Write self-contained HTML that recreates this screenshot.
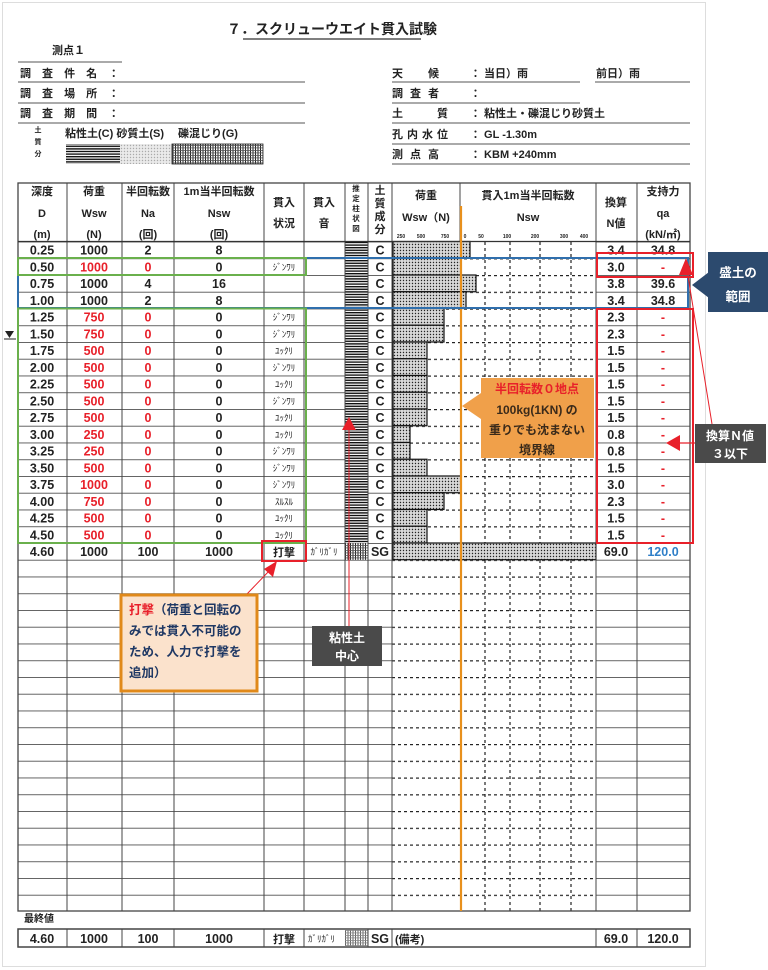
<!DOCTYPE html>
<html><head><meta charset="utf-8"><style>
html,body{margin:0;padding:0;background:#fff}
svg{display:block}
text{font-family:"Liberation Sans","Noto Sans CJK JP",sans-serif;font-weight:bold;fill:#222}
.c{text-anchor:middle}
.r{fill:#e8202a}
.k{font-size:9px;font-weight:normal}
</style></head><body>
<svg width="768" height="970" viewBox="0 0 768 970" xmlns="http://www.w3.org/2000/svg">
<defs>
<pattern id="dots" width="3" height="3" patternUnits="userSpaceOnUse"><rect width="3" height="3" fill="#d8d8d8"/><circle cx="1.5" cy="1.5" r="0.7" fill="#222"/></pattern>
<pattern id="str" width="4" height="2.6" patternUnits="userSpaceOnUse"><rect width="4" height="2.6" fill="#fff"/><rect width="4" height="1.4" fill="#111"/></pattern>
<pattern id="grd" width="2.5" height="2.5" patternUnits="userSpaceOnUse"><rect width="2.5" height="2.5" fill="#fff"/><rect width="1" height="2.5" fill="#222"/><rect width="2.5" height="0.8" fill="#555"/></pattern>
<pattern id="rowl" x="0" y="241.5" width="10" height="16.75" patternUnits="userSpaceOnUse"><rect x="0" y="0" width="10" height="0.9" fill="#555"/></pattern>
<pattern id="rowd" x="392" y="241.5" width="6" height="16.75" patternUnits="userSpaceOnUse"><rect x="0" y="0" width="3" height="1.2" fill="#222"/></pattern>
</defs>
<rect x="2.5" y="2.5" width="703" height="964" fill="#fff" stroke="#ddd"/>
<!-- title -->
<text x="332" y="34" class="c" font-size="14">７．スクリューウエイト貫入試験</text>
<line x1="243" y1="39" x2="421" y2="39" stroke="#333" stroke-width="1.2"/>
<text x="52" y="54" font-size="11">測点１</text>
<line x1="18" y1="62" x2="122" y2="62" stroke="#555"/>
<text x="20" y="77" font-size="11" letter-spacing="4">調 査 件 名 ：</text>
<text x="20" y="97" font-size="11" letter-spacing="4">調 査 場 所 ：</text>
<text x="20" y="117" font-size="11" letter-spacing="4">調 査 期 間 ：</text>
<line x1="18" y1="82" x2="305" y2="82" stroke="#555"/>
<line x1="18" y1="103" x2="305" y2="103" stroke="#555"/>
<line x1="18" y1="123" x2="305" y2="123" stroke="#555"/>
<text x="38" y="132" font-size="7" class="c">土</text><text x="38" y="144" font-size="7" class="c">質</text><text x="38" y="156" font-size="7" class="c">分</text>
<text x="65" y="137" font-size="11">粘性土(C) 砂質土(S)　 礫混じり(G)</text>
<rect x="66" y="144" width="54" height="20" fill="url(#str)"/>
<rect x="120" y="144" width="52" height="20" fill="#f4f4f4"/>
<rect x="120" y="144" width="52" height="20" fill="url(#dots)" opacity="0.35"/>
<rect x="172" y="144" width="91" height="20" fill="url(#grd)" stroke="#222" stroke-width="0.8"/>
<!-- right info -->
<g font-size="11">
<text x="392" y="77">天</text><text x="428" y="77">候</text><text x="470" y="77">： 当日）雨</text><text x="596" y="77">前日）雨</text>
<text x="392" y="97" letter-spacing="7">調査者</text><text x="470" y="97">：</text>
<text x="392" y="117">土</text><text x="437" y="117">質</text><text x="470" y="117">：  粘性土・礫混じり砂質土</text>
<text x="392" y="138" letter-spacing="4">孔内水位</text><text x="470" y="138">： GL -1.30m</text>
<text x="392" y="158" letter-spacing="7">測点高</text><text x="470" y="158">： KBM +240mm</text>
</g>
<g stroke="#555"><line x1="392" y1="82" x2="580" y2="82"/><line x1="595" y1="82" x2="690" y2="82"/><line x1="392" y1="103" x2="580" y2="103"/><line x1="392" y1="123" x2="690" y2="123"/><line x1="392" y1="144" x2="690" y2="144"/><line x1="392" y1="164" x2="690" y2="164"/></g>

<!-- table grid -->
<rect x="18" y="241.5" width="374" height="670" fill="url(#rowl)"/>
<rect x="596" y="241.5" width="94" height="670" fill="url(#rowl)"/>
<rect x="392" y="258" width="204" height="653" fill="url(#rowd)"/>
<g stroke="#222" stroke-width="1.2" stroke-dasharray="3,3">
<line x1="485" y1="242" x2="485" y2="911"/><line x1="510" y1="242" x2="510" y2="911"/><line x1="540" y1="242" x2="540" y2="911"/><line x1="571" y1="242" x2="571" y2="911"/>
</g>
<!-- bars -->
<g fill="url(#dots)" stroke="#111" stroke-width="1.2">
<rect x="393" y="241.5" width="77" height="16.75"/>
<rect x="393" y="258.25" width="68" height="16.75"/>
<rect x="393" y="275" width="83" height="16.75"/>
<rect x="393" y="291.75" width="73" height="16.75"/>
<rect x="393" y="308.5" width="51" height="16.75"/>
<rect x="393" y="325.25" width="51" height="16.75"/>
<rect x="393" y="342" width="34" height="16.75"/>
<rect x="393" y="358.75" width="34" height="16.75"/>
<rect x="393" y="375.5" width="34" height="16.75"/>
<rect x="393" y="392.25" width="34" height="16.75"/>
<rect x="393" y="409" width="34" height="16.75"/>
<rect x="393" y="425.75" width="17" height="16.75"/>
<rect x="393" y="442.5" width="17" height="16.75"/>
<rect x="393" y="459.25" width="34" height="16.75"/>
<rect x="393" y="476" width="68" height="16.75"/>
<rect x="393" y="492.75" width="51" height="16.75"/>
<rect x="393" y="509.5" width="34" height="16.75"/>
<rect x="393" y="526.25" width="34" height="16.75"/>
<rect x="393" y="543" width="203" height="16.75"/>
</g>
<!-- pillar -->
<rect x="345" y="241.5" width="23" height="301.5" fill="url(#str)"/>
<rect x="345" y="543" width="23" height="16.75" fill="url(#grd)"/>
<!-- verticals -->
<g stroke="#444" stroke-width="1">
<line x1="67" y1="183" x2="67" y2="911"/><line x1="122" y1="183" x2="122" y2="911"/><line x1="174" y1="183" x2="174" y2="911"/><line x1="264" y1="183" x2="264" y2="911"/><line x1="304" y1="183" x2="304" y2="911"/><line x1="345" y1="183" x2="345" y2="911"/><line x1="368" y1="183" x2="368" y2="911"/><line x1="392" y1="183" x2="392" y2="911"/><line x1="460" y1="183" x2="460" y2="241"/><line x1="596" y1="183" x2="596" y2="911"/><line x1="637" y1="183" x2="637" y2="911"/>
</g>
<rect x="18" y="183" width="672" height="728" fill="none" stroke="#444" stroke-width="1.3"/>
<line x1="18" y1="241.5" x2="690" y2="241.5" stroke="#333" stroke-width="1.2"/>
<line x1="461" y1="206" x2="461" y2="911" stroke="#e8901c" stroke-width="2.2"/>
<!-- header text -->
<g font-size="11">
<text x="42" y="195" class="c">深度</text><text x="42" y="217" class="c">D</text><text x="42" y="238" class="c">(m)</text>
<text x="94" y="195" class="c">荷重</text><text x="94" y="217" class="c">Wsw</text><text x="94" y="238" class="c">(N)</text>
<text x="148" y="195" class="c">半回転数</text><text x="148" y="217" class="c">Na</text><text x="148" y="238" class="c">(回)</text>
<text x="219" y="195" class="c">1m当半回転数</text><text x="219" y="217" class="c">Nsw</text><text x="219" y="238" class="c">(回)</text>
<text x="284" y="206" class="c">貫入</text><text x="284" y="227" class="c">状況</text>
<text x="324" y="206" class="c">貫入</text><text x="324" y="227" class="c">音</text>
<text x="380" y="194" class="c">土</text><text x="380" y="207" class="c">質</text><text x="380" y="220" class="c">成</text><text x="380" y="233" class="c">分</text>
<text x="426" y="199" class="c">荷重</text><text x="426" y="221" class="c">Wsw（N)</text>
<text x="528" y="199" class="c">貫入1m当半回転数</text><text x="528" y="221" class="c">Nsw</text>
<text x="616" y="206" class="c">換算</text><text x="616" y="227" class="c">N値</text>
<text x="663" y="195" class="c">支持力</text><text x="663" y="217" class="c">qa</text><text x="663" y="238" class="c">(kN/㎡)</text>
</g>
<g font-size="7.5"><text x="356" y="191" class="c">推</text><text x="356" y="201" class="c">定</text><text x="356" y="211" class="c">柱</text><text x="356" y="221" class="c">状</text><text x="356" y="231" class="c">図</text></g>
<g font-size="5" font-weight="normal"><text x="401" y="238" class="c">250</text><text x="421" y="238" class="c">500</text><text x="445" y="238" class="c">750</text><text x="465" y="238" class="c">0</text><text x="481" y="238" class="c">50</text><text x="507" y="238" class="c">100</text><text x="535" y="238" class="c">200</text><text x="564" y="238" class="c">300</text><text x="584" y="238" class="c">400</text></g>

<!-- data rows -->
<g font-size="12.5">
<g transform="translate(0,241.5)"><text x="42" y="13" class="c">0.25</text><text x="94" y="13" class="c">1000</text><text x="148" y="13" class="c">2</text><text x="219" y="13" class="c">8</text><text x="380" y="13" class="c">C</text><text x="616" y="13" class="c">3.4</text><text x="663" y="13" class="c">34.8</text></g>
<g transform="translate(0,258.25)"><text x="42" y="13" class="c">0.50</text><text x="94" y="13" class="c r">1000</text><text x="148" y="13" class="c r">0</text><text x="219" y="13" class="c">0</text><text x="284" y="12" class="c k">ｼﾞﾝﾜﾘ</text><text x="380" y="13" class="c">C</text><text x="616" y="13" class="c">3.0</text><text x="663" y="13" class="c r">-</text></g>
<g transform="translate(0,275)"><text x="42" y="13" class="c">0.75</text><text x="94" y="13" class="c">1000</text><text x="148" y="13" class="c">4</text><text x="219" y="13" class="c">16</text><text x="380" y="13" class="c">C</text><text x="616" y="13" class="c">3.8</text><text x="663" y="13" class="c">39.6</text></g>
<g transform="translate(0,291.75)"><text x="42" y="13" class="c">1.00</text><text x="94" y="13" class="c">1000</text><text x="148" y="13" class="c">2</text><text x="219" y="13" class="c">8</text><text x="380" y="13" class="c">C</text><text x="616" y="13" class="c">3.4</text><text x="663" y="13" class="c">34.8</text></g>
<g transform="translate(0,308.5)"><text x="42" y="13" class="c">1.25</text><text x="94" y="13" class="c r">750</text><text x="148" y="13" class="c r">0</text><text x="219" y="13" class="c">0</text><text x="284" y="12" class="c k">ｼﾞﾝﾜﾘ</text><text x="380" y="13" class="c">C</text><text x="616" y="13" class="c">2.3</text><text x="663" y="13" class="c r">-</text></g>
<g transform="translate(0,325.25)"><text x="42" y="13" class="c">1.50</text><text x="94" y="13" class="c r">750</text><text x="148" y="13" class="c r">0</text><text x="219" y="13" class="c">0</text><text x="284" y="12" class="c k">ｼﾞﾝﾜﾘ</text><text x="380" y="13" class="c">C</text><text x="616" y="13" class="c">2.3</text><text x="663" y="13" class="c r">-</text></g>
<g transform="translate(0,342)"><text x="42" y="13" class="c">1.75</text><text x="94" y="13" class="c r">500</text><text x="148" y="13" class="c r">0</text><text x="219" y="13" class="c">0</text><text x="284" y="12" class="c k">ﾕｯｸﾘ</text><text x="380" y="13" class="c">C</text><text x="616" y="13" class="c">1.5</text><text x="663" y="13" class="c r">-</text></g>
<g transform="translate(0,358.75)"><text x="42" y="13" class="c">2.00</text><text x="94" y="13" class="c r">500</text><text x="148" y="13" class="c r">0</text><text x="219" y="13" class="c">0</text><text x="284" y="12" class="c k">ｼﾞﾝﾜﾘ</text><text x="380" y="13" class="c">C</text><text x="616" y="13" class="c">1.5</text><text x="663" y="13" class="c r">-</text></g>
<g transform="translate(0,375.5)"><text x="42" y="13" class="c">2.25</text><text x="94" y="13" class="c r">500</text><text x="148" y="13" class="c r">0</text><text x="219" y="13" class="c">0</text><text x="284" y="12" class="c k">ﾕｯｸﾘ</text><text x="380" y="13" class="c">C</text><text x="616" y="13" class="c">1.5</text><text x="663" y="13" class="c r">-</text></g>
<g transform="translate(0,392.25)"><text x="42" y="13" class="c">2.50</text><text x="94" y="13" class="c r">500</text><text x="148" y="13" class="c r">0</text><text x="219" y="13" class="c">0</text><text x="284" y="12" class="c k">ｼﾞﾝﾜﾘ</text><text x="380" y="13" class="c">C</text><text x="616" y="13" class="c">1.5</text><text x="663" y="13" class="c r">-</text></g>
<g transform="translate(0,409)"><text x="42" y="13" class="c">2.75</text><text x="94" y="13" class="c r">500</text><text x="148" y="13" class="c r">0</text><text x="219" y="13" class="c">0</text><text x="284" y="12" class="c k">ﾕｯｸﾘ</text><text x="380" y="13" class="c">C</text><text x="616" y="13" class="c">1.5</text><text x="663" y="13" class="c r">-</text></g>
<g transform="translate(0,425.75)"><text x="42" y="13" class="c">3.00</text><text x="94" y="13" class="c r">250</text><text x="148" y="13" class="c r">0</text><text x="219" y="13" class="c">0</text><text x="284" y="12" class="c k">ﾕｯｸﾘ</text><text x="380" y="13" class="c">C</text><text x="616" y="13" class="c">0.8</text><text x="663" y="13" class="c r">-</text></g>
<g transform="translate(0,442.5)"><text x="42" y="13" class="c">3.25</text><text x="94" y="13" class="c r">250</text><text x="148" y="13" class="c r">0</text><text x="219" y="13" class="c">0</text><text x="284" y="12" class="c k">ｼﾞﾝﾜﾘ</text><text x="380" y="13" class="c">C</text><text x="616" y="13" class="c">0.8</text><text x="663" y="13" class="c r">-</text></g>
<g transform="translate(0,459.25)"><text x="42" y="13" class="c">3.50</text><text x="94" y="13" class="c r">500</text><text x="148" y="13" class="c r">0</text><text x="219" y="13" class="c">0</text><text x="284" y="12" class="c k">ｼﾞﾝﾜﾘ</text><text x="380" y="13" class="c">C</text><text x="616" y="13" class="c">1.5</text><text x="663" y="13" class="c r">-</text></g>
<g transform="translate(0,476)"><text x="42" y="13" class="c">3.75</text><text x="94" y="13" class="c r">1000</text><text x="148" y="13" class="c r">0</text><text x="219" y="13" class="c">0</text><text x="284" y="12" class="c k">ｼﾞﾝﾜﾘ</text><text x="380" y="13" class="c">C</text><text x="616" y="13" class="c">3.0</text><text x="663" y="13" class="c r">-</text></g>
<g transform="translate(0,492.75)"><text x="42" y="13" class="c">4.00</text><text x="94" y="13" class="c r">750</text><text x="148" y="13" class="c r">0</text><text x="219" y="13" class="c">0</text><text x="284" y="12" class="c k">ｽﾙｽﾙ</text><text x="380" y="13" class="c">C</text><text x="616" y="13" class="c">2.3</text><text x="663" y="13" class="c r">-</text></g>
<g transform="translate(0,509.5)"><text x="42" y="13" class="c">4.25</text><text x="94" y="13" class="c r">500</text><text x="148" y="13" class="c r">0</text><text x="219" y="13" class="c">0</text><text x="284" y="12" class="c k">ﾕｯｸﾘ</text><text x="380" y="13" class="c">C</text><text x="616" y="13" class="c">1.5</text><text x="663" y="13" class="c r">-</text></g>
<g transform="translate(0,526.25)"><text x="42" y="13" class="c">4.50</text><text x="94" y="13" class="c r">500</text><text x="148" y="13" class="c r">0</text><text x="219" y="13" class="c">0</text><text x="284" y="12" class="c k">ﾕｯｸﾘ</text><text x="380" y="13" class="c">C</text><text x="616" y="13" class="c">1.5</text><text x="663" y="13" class="c r">-</text></g>
<g transform="translate(0,543)"><text x="42" y="13" class="c">4.60</text><text x="94" y="13" class="c">1000</text><text x="148" y="13" class="c">100</text><text x="219" y="13" class="c">1000</text><text x="284" y="13" class="c" font-size="11">打撃</text><text x="324" y="12" class="c k">ｶﾞﾘｶﾞﾘ</text><text x="380" y="13" class="c">SG</text><text x="616" y="13" class="c">69.0</text><text x="663" y="13" class="c" style="fill:#2f7fc8">120.0</text></g>
</g>
<!-- water mark -->
<path d="M5,331 L14,331 L9.5,338 Z" fill="#222"/><line x1="4" y1="339" x2="16" y2="339" stroke="#222"/>

<!-- final row -->
<text x="24" y="922" font-size="10">最終値</text>
<rect x="18" y="929" width="672" height="18" fill="none" stroke="#444" stroke-width="1.5"/>
<g stroke="#444"><line x1="67" y1="929" x2="67" y2="947"/><line x1="122" y1="929" x2="122" y2="947"/><line x1="174" y1="929" x2="174" y2="947"/><line x1="264" y1="929" x2="264" y2="947"/><line x1="304" y1="929" x2="304" y2="947"/><line x1="368" y1="929" x2="368" y2="947"/><line x1="392" y1="929" x2="392" y2="947"/><line x1="596" y1="929" x2="596" y2="947"/><line x1="637" y1="929" x2="637" y2="947"/></g>
<rect x="345" y="930" width="23" height="16" fill="url(#grd)" opacity="0.7"/>
<g font-size="12.5"><text x="42" y="943" class="c">4.60</text><text x="94" y="943" class="c">1000</text><text x="148" y="943" class="c">100</text><text x="219" y="943" class="c">1000</text><text x="284" y="943" class="c" font-size="11">打撃</text><text x="308" y="942" class="k">ｶﾞﾘｶﾞﾘ</text><text x="380" y="943" class="c">SG</text><text x="395" y="943" font-size="11">(備考)</text><text x="616" y="943" class="c">69.0</text><text x="663" y="943" class="c">120.0</text></g>

<!-- colored highlight boxes -->
<rect x="18" y="258" width="670" height="50" fill="none" stroke="#2f6fad" stroke-width="2"/>
<rect x="18" y="258" width="288" height="17" fill="none" stroke="#6ab04c" stroke-width="2"/>
<rect x="18" y="308.5" width="288" height="234.5" fill="none" stroke="#6ab04c" stroke-width="2"/>
<rect x="597" y="253" width="96" height="24" fill="none" stroke="#e8202a" stroke-width="2"/>
<rect x="597" y="309" width="96" height="234" fill="none" stroke="#e8202a" stroke-width="2"/>
<rect x="262" y="541" width="44" height="20" fill="none" stroke="#e8202a" stroke-width="2"/>

<!-- callouts -->
<line x1="687" y1="270" x2="712" y2="424" stroke="#e8202a" stroke-width="1"/>
<path d="M686,258 L679,275 L693,275 Z" fill="#e8202a"/>
<path d="M692,285 L709,272 L709,298 Z" fill="#2c4a6e"/>
<rect x="708" y="252" width="60" height="60" fill="#2c4a6e"/>
<text x="738" y="277" class="c" font-size="12.5" style="fill:#fff">盛土の</text>
<text x="738" y="301" class="c" font-size="12.5" style="fill:#fff">範囲</text>

<line x1="676" y1="443" x2="695" y2="443" stroke="#e8202a" stroke-width="1.2"/>
<path d="M666,443 L680,435 L680,451 Z" fill="#e8202a"/>
<rect x="695" y="424" width="71" height="39" fill="#4a4a4a"/>
<text x="730" y="440" class="c" font-size="12" style="fill:#fff">換算Ｎ値</text>
<text x="730" y="458" class="c" font-size="12" style="fill:#fff">３以下</text>

<path d="M462,406 L481,393 L481,400 L490,400 L490,412 L481,412 L481,419 Z" fill="#f0a04a"/>
<rect x="481" y="378" width="113" height="80" fill="#f0a04a"/>
<text x="537" y="393" class="c" font-size="12" style="fill:#e8202a">半回転数０地点</text>
<text x="537" y="414" class="c" font-size="12" style="fill:#3a2a1a">100kg(1KN) の</text>
<text x="537" y="434" class="c" font-size="12" style="fill:#3a2a1a">重りでも沈まない</text>
<text x="537" y="454" class="c" font-size="12" style="fill:#3a2a1a">境界線</text>

<line x1="349" y1="428" x2="349" y2="626" stroke="#e8202a" stroke-width="1"/>
<path d="M349,417 L342,430 L356,430 Z" fill="#e8202a"/>
<rect x="312" y="626" width="70" height="40" fill="#4a4a4a"/>
<text x="347" y="642" class="c" font-size="12" style="fill:#fff">粘性土</text>
<text x="347" y="660" class="c" font-size="12" style="fill:#fff">中心</text>

<line x1="247" y1="594" x2="270" y2="570" stroke="#e8202a" stroke-width="1"/>
<path d="M277,561 L264,569 L273,577 Z" fill="#e8202a"/>
<rect x="121" y="595" width="136" height="96" fill="#fbe2cc" stroke="#e0891a" stroke-width="3"/>
<g font-size="12.5"><text x="129" y="614"><tspan style="fill:#e8202a">打撃</tspan><tspan style="fill:#1f3864">（荷重と回転の</tspan></text>
<text x="129" y="635" style="fill:#1f3864">みでは貫入不可能の</text>
<text x="129" y="656" style="fill:#1f3864">ため、人力で打撃を</text>
<text x="129" y="677" style="fill:#1f3864">追加）</text></g>
</svg>
</body></html>
